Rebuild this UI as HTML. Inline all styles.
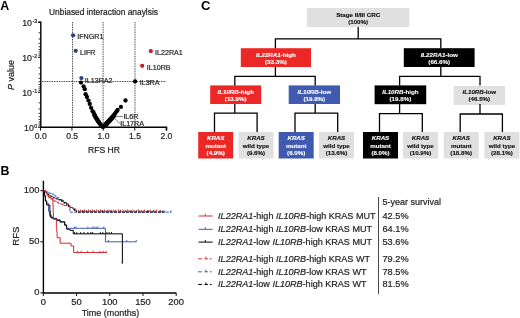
<!DOCTYPE html>
<html><head><meta charset="utf-8"><style>
html,body{margin:0;padding:0;background:#fff;width:520px;height:318px;overflow:hidden}
svg{display:block} text[fill="#222"]{stroke:#222;stroke-width:0.2px} text[fill="#111"]{stroke:#111;stroke-width:0.15px} text[fill="#fff"]{stroke:#fff;stroke-width:0.12px}
</style></head><body>
<svg width="520" height="318" viewBox="0 0 520 318" font-family="'Liberation Sans', Arial, sans-serif">
<rect width="520" height="318" fill="#fff"/>
<text x="0.3" y="10.2" font-size="12.4" text-anchor="start" font-weight="bold" font-style="normal" fill="#000" >A</text>
<text x="0.6" y="175.2" font-size="12.4" text-anchor="start" font-weight="bold" font-style="normal" fill="#000" >B</text>
<text x="201.0" y="10.3" font-size="13.0" text-anchor="start" font-weight="bold" font-style="normal" fill="#000" >C</text>
<text x="103.5" y="15.2" font-size="8.4" text-anchor="middle" font-weight="normal" font-style="normal" fill="#222" >Unbiased interaction anaylsis</text>
<line x1="72.5" y1="22" x2="72.5" y2="127" stroke="#2a2a2a" stroke-width="1" stroke-dasharray="0.85 0.85"/>
<line x1="103.1" y1="22" x2="103.1" y2="127" stroke="#2a2a2a" stroke-width="1" stroke-dasharray="0.85 0.85"/>
<line x1="135.0" y1="22" x2="135.0" y2="127" stroke="#2a2a2a" stroke-width="1" stroke-dasharray="0.85 0.85"/>
<line x1="42" y1="81.5" x2="166.2" y2="81.5" stroke="#2a2a2a" stroke-width="1" stroke-dasharray="0.85 0.85"/>
<path d="M38.3 22.3 H40.8 V127.3 H166.6 V130.6" fill="none" stroke="#000" stroke-width="1.4"/>
<line x1="38" y1="22.299999999999997" x2="40.5" y2="22.299999999999997" stroke="#111" stroke-width="1"/>
<line x1="38" y1="57.3" x2="40.5" y2="57.3" stroke="#111" stroke-width="1"/>
<line x1="38" y1="92.3" x2="40.5" y2="92.3" stroke="#111" stroke-width="1"/>
<line x1="38" y1="127.3" x2="40.5" y2="127.3" stroke="#111" stroke-width="1"/>
<line x1="38.6" y1="32.84" x2="40.5" y2="32.84" stroke="#111" stroke-width="0.85"/>
<line x1="38.6" y1="39.00" x2="40.5" y2="39.00" stroke="#111" stroke-width="0.85"/>
<line x1="38.6" y1="43.37" x2="40.5" y2="43.37" stroke="#111" stroke-width="0.85"/>
<line x1="38.6" y1="46.76" x2="40.5" y2="46.76" stroke="#111" stroke-width="0.85"/>
<line x1="38.6" y1="49.54" x2="40.5" y2="49.54" stroke="#111" stroke-width="0.85"/>
<line x1="38.6" y1="51.88" x2="40.5" y2="51.88" stroke="#111" stroke-width="0.85"/>
<line x1="38.6" y1="53.91" x2="40.5" y2="53.91" stroke="#111" stroke-width="0.85"/>
<line x1="38.6" y1="55.70" x2="40.5" y2="55.70" stroke="#111" stroke-width="0.85"/>
<line x1="38.6" y1="67.84" x2="40.5" y2="67.84" stroke="#111" stroke-width="0.85"/>
<line x1="38.6" y1="74.00" x2="40.5" y2="74.00" stroke="#111" stroke-width="0.85"/>
<line x1="38.6" y1="78.37" x2="40.5" y2="78.37" stroke="#111" stroke-width="0.85"/>
<line x1="38.6" y1="81.76" x2="40.5" y2="81.76" stroke="#111" stroke-width="0.85"/>
<line x1="38.6" y1="84.54" x2="40.5" y2="84.54" stroke="#111" stroke-width="0.85"/>
<line x1="38.6" y1="86.88" x2="40.5" y2="86.88" stroke="#111" stroke-width="0.85"/>
<line x1="38.6" y1="88.91" x2="40.5" y2="88.91" stroke="#111" stroke-width="0.85"/>
<line x1="38.6" y1="90.70" x2="40.5" y2="90.70" stroke="#111" stroke-width="0.85"/>
<line x1="38.6" y1="102.84" x2="40.5" y2="102.84" stroke="#111" stroke-width="0.85"/>
<line x1="38.6" y1="109.00" x2="40.5" y2="109.00" stroke="#111" stroke-width="0.85"/>
<line x1="38.6" y1="113.37" x2="40.5" y2="113.37" stroke="#111" stroke-width="0.85"/>
<line x1="38.6" y1="116.76" x2="40.5" y2="116.76" stroke="#111" stroke-width="0.85"/>
<line x1="38.6" y1="119.54" x2="40.5" y2="119.54" stroke="#111" stroke-width="0.85"/>
<line x1="38.6" y1="121.88" x2="40.5" y2="121.88" stroke="#111" stroke-width="0.85"/>
<line x1="38.6" y1="123.91" x2="40.5" y2="123.91" stroke="#111" stroke-width="0.85"/>
<line x1="38.6" y1="125.70" x2="40.5" y2="125.70" stroke="#111" stroke-width="0.85"/>
<line x1="40.5" y1="127.3" x2="40.5" y2="130.6" stroke="#111" stroke-width="1"/>
<line x1="71.925" y1="127.3" x2="71.925" y2="130.6" stroke="#111" stroke-width="1"/>
<line x1="103.35" y1="127.3" x2="103.35" y2="130.6" stroke="#111" stroke-width="1"/>
<line x1="134.775" y1="127.3" x2="134.775" y2="130.6" stroke="#111" stroke-width="1"/>
<line x1="166.2" y1="127.3" x2="166.2" y2="130.6" stroke="#111" stroke-width="1"/>
<text x="37.3" y="25.499999999999996" font-size="8.8" text-anchor="end" fill="#222">10<tspan font-size="5.4" dx="0.5" dy="-2.9">-3</tspan></text>
<text x="37.3" y="60.5" font-size="8.8" text-anchor="end" fill="#222">10<tspan font-size="5.4" dx="0.5" dy="-2.9">-2</tspan></text>
<text x="37.3" y="95.5" font-size="8.8" text-anchor="end" fill="#222">10<tspan font-size="5.4" dx="0.5" dy="-2.9">-1</tspan></text>
<text x="37.3" y="130.5" font-size="8.8" text-anchor="end" fill="#222">10<tspan font-size="5.4" dx="0.5" dy="-2.9">0</tspan></text>
<text x="40.7" y="139.4" font-size="8.6" text-anchor="middle" font-weight="normal" font-style="normal" fill="#222" >0.0</text>
<text x="72.125" y="139.4" font-size="8.6" text-anchor="middle" font-weight="normal" font-style="normal" fill="#222" >0.5</text>
<text x="103.55" y="139.4" font-size="8.6" text-anchor="middle" font-weight="normal" font-style="normal" fill="#222" >1.0</text>
<text x="134.975" y="139.4" font-size="8.6" text-anchor="middle" font-weight="normal" font-style="normal" fill="#222" >1.5</text>
<text x="166.39999999999998" y="139.4" font-size="8.6" text-anchor="middle" font-weight="normal" font-style="normal" fill="#222" >2.0</text>
<text x="104" y="153.2" font-size="8.6" text-anchor="middle" font-weight="normal" font-style="normal" fill="#222" >RFS HR</text>
<text transform="translate(14.2 75) rotate(-90)" font-size="9" text-anchor="middle" fill="#222"><tspan font-style="italic">P</tspan> value</text>
<circle cx="81.0" cy="82.6" r="2.15" fill="#000"/>
<circle cx="83.6" cy="86.5" r="2.15" fill="#000"/>
<circle cx="84.8" cy="89.2" r="2.15" fill="#000"/>
<circle cx="85.6" cy="94.2" r="2.15" fill="#000"/>
<circle cx="86.9" cy="97.0" r="2.15" fill="#000"/>
<circle cx="88.5" cy="100.6" r="2.15" fill="#000"/>
<circle cx="89.8" cy="104.0" r="2.15" fill="#000"/>
<circle cx="91.1" cy="107.8" r="2.15" fill="#000"/>
<circle cx="92.6" cy="111.2" r="2.15" fill="#000"/>
<circle cx="94.2" cy="115.0" r="2.15" fill="#000"/>
<circle cx="95.5" cy="117.6" r="2.15" fill="#000"/>
<circle cx="96.8" cy="119.6" r="2.15" fill="#000"/>
<circle cx="98.0" cy="121.4" r="2.15" fill="#000"/>
<circle cx="99.2" cy="123.0" r="2.15" fill="#000"/>
<circle cx="100.4" cy="124.6" r="2.15" fill="#000"/>
<circle cx="101.6" cy="125.9" r="2.15" fill="#000"/>
<circle cx="102.8" cy="127.0" r="2.15" fill="#000"/>
<circle cx="93.6" cy="112.6" r="2.15" fill="#000"/>
<circle cx="95.0" cy="115.4" r="2.15" fill="#000"/>
<circle cx="96.4" cy="117.8" r="2.15" fill="#000"/>
<circle cx="97.6" cy="120.0" r="2.15" fill="#000"/>
<circle cx="98.8" cy="121.9" r="2.15" fill="#000"/>
<circle cx="100.0" cy="123.6" r="2.15" fill="#000"/>
<circle cx="101.2" cy="125.1" r="2.15" fill="#000"/>
<circle cx="103.8" cy="126.2" r="2.15" fill="#000"/>
<circle cx="104.8" cy="125.1" r="2.15" fill="#000"/>
<circle cx="105.8" cy="124.0" r="2.15" fill="#000"/>
<circle cx="106.8" cy="122.9" r="2.15" fill="#000"/>
<circle cx="107.8" cy="121.8" r="2.15" fill="#000"/>
<circle cx="108.8" cy="120.7" r="2.15" fill="#000"/>
<circle cx="109.8" cy="119.6" r="2.15" fill="#000"/>
<circle cx="110.8" cy="118.5" r="2.15" fill="#000"/>
<circle cx="111.8" cy="117.4" r="2.15" fill="#000"/>
<circle cx="112.8" cy="116.3" r="2.15" fill="#000"/>
<circle cx="113.8" cy="115.2" r="2.15" fill="#000"/>
<circle cx="114.8" cy="114.0" r="2.15" fill="#000"/>
<circle cx="115.8" cy="112.6" r="2.15" fill="#000"/>
<circle cx="116.8" cy="111.2" r="2.15" fill="#000"/>
<circle cx="117.6" cy="109.9" r="2.15" fill="#000"/>
<circle cx="120.9" cy="106.9" r="2.15" fill="#000"/>
<circle cx="125.5" cy="100.5" r="2.15" fill="#000"/>
<circle cx="104.8" cy="126.3" r="2.15" fill="#000"/>
<circle cx="105.8" cy="125.3" r="2.15" fill="#000"/>
<circle cx="106.8" cy="124.2" r="2.15" fill="#000"/>
<circle cx="107.8" cy="123.1" r="2.15" fill="#000"/>
<circle cx="108.8" cy="122.0" r="2.15" fill="#000"/>
<circle cx="109.8" cy="120.9" r="2.15" fill="#000"/>
<circle cx="110.8" cy="119.8" r="2.15" fill="#000"/>
<circle cx="111.8" cy="118.7" r="2.15" fill="#000"/>
<circle cx="112.8" cy="117.5" r="2.15" fill="#000"/>
<circle cx="113.8" cy="116.3" r="2.15" fill="#000"/>
<circle cx="73.1" cy="35.3" r="2.15" fill="#343f80"/>
<circle cx="75.7" cy="50.8" r="2.15" fill="#343f80"/>
<circle cx="81.4" cy="78.1" r="2.15" fill="#343f80"/>
<circle cx="150.8" cy="51.1" r="2.15" fill="#c0202a"/>
<circle cx="142.2" cy="65.8" r="2.15" fill="#c0202a"/>
<circle cx="135.1" cy="81.4" r="2.15" fill="#000"/>
<text x="77.2" y="39.0" font-size="7.15" text-anchor="start" font-weight="normal" font-style="normal" fill="#222" >IFNGR1</text>
<text x="80.0" y="55.0" font-size="7.15" text-anchor="start" font-weight="normal" font-style="normal" fill="#222" >LIFR</text>
<text x="84.8" y="82.8" font-size="7.15" text-anchor="start" font-weight="normal" font-style="normal" fill="#222" >IL13RA2</text>
<text x="155.0" y="54.6" font-size="7.15" text-anchor="start" font-weight="normal" font-style="normal" fill="#222" >IL22RA1</text>
<text x="146.8" y="70.1" font-size="7.15" text-anchor="start" font-weight="normal" font-style="normal" fill="#222" >IL10RB</text>
<text x="139.7" y="85.4" font-size="7.15" text-anchor="start" font-weight="normal" font-style="normal" fill="#222" >IL3RA</text>
<text x="123.4" y="118.6" font-size="7.15" text-anchor="start" font-weight="normal" font-style="normal" fill="#222" >IL6R</text>
<text x="120.2" y="125.6" font-size="7.15" text-anchor="start" font-weight="normal" font-style="normal" fill="#222" >IL17RA</text>
<line x1="115" y1="116.5" x2="123" y2="116.5" stroke="#333" stroke-width="0.6"/>
<line x1="114.8" y1="118.6" x2="120.6" y2="124" stroke="#333" stroke-width="0.6"/>
<rect x="307" y="8" width="102.30000000000001" height="19" fill="#e0e0e0"/><text x="358.15" y="16.6" font-size="6.2" font-weight="bold" text-anchor="middle" fill="#111">Stage II/III CRC</text><text x="358.15" y="23.7" font-size="6.2" font-weight="bold" text-anchor="middle" fill="#111">(100%)</text>
<rect x="240.8" y="48.2" width="70.19999999999999" height="18.799999999999997" fill="#ec2826"/><text x="275.9" y="56.9" font-size="6.2" font-weight="bold" text-anchor="middle" fill="#fff"><tspan font-style="italic">IL22RA1</tspan>-high</text><text x="275.9" y="64.0" font-size="6.2" font-weight="bold" text-anchor="middle" fill="#fff">(33.3%)</text>
<rect x="403.8" y="48.2" width="70.80000000000001" height="18.799999999999997" fill="#000"/><text x="439.20000000000005" y="56.9" font-size="6.2" font-weight="bold" text-anchor="middle" fill="#fff"><tspan font-style="italic">IL22RA1</tspan>-low</text><text x="439.20000000000005" y="64.0" font-size="6.2" font-weight="bold" text-anchor="middle" fill="#fff">(66.6%)</text>
<rect x="210.2" y="85.4" width="51.0" height="18.599999999999994" fill="#ec2826"/><text x="235.7" y="94.0" font-size="6.2" font-weight="bold" text-anchor="middle" fill="#fff"><tspan font-style="italic">IL10RB</tspan>-high</text><text x="235.7" y="101.1" font-size="6.2" font-weight="bold" text-anchor="middle" fill="#fff">(13.9%)</text>
<rect x="288.7" y="85.4" width="51.30000000000001" height="18.599999999999994" fill="#3f5aae"/><text x="314.35" y="94.0" font-size="6.2" font-weight="bold" text-anchor="middle" fill="#fff"><tspan font-style="italic">IL10RB</tspan>-low</text><text x="314.35" y="101.1" font-size="6.2" font-weight="bold" text-anchor="middle" fill="#fff">(19.8%)</text>
<rect x="374.6" y="85.4" width="51.599999999999966" height="18.799999999999997" fill="#000"/><text x="400.4" y="94.0" font-size="6.2" font-weight="bold" text-anchor="middle" fill="#fff"><tspan font-style="italic">IL10RB</tspan>-high</text><text x="400.4" y="101.1" font-size="6.2" font-weight="bold" text-anchor="middle" fill="#fff">(19.8%)</text>
<rect x="453.7" y="86.0" width="51.30000000000001" height="19.0" fill="#e0e0e0"/><text x="479.35" y="94.2" font-size="6.2" font-weight="bold" text-anchor="middle" fill="#111"><tspan font-style="italic">IL10RB</tspan>-low</text><text x="479.35" y="101.3" font-size="6.2" font-weight="bold" text-anchor="middle" fill="#111">(46.5%)</text>
<rect x="198.2" y="132" width="35.0" height="26.5" fill="#ec2826"/><text x="215.7" y="140.2" font-size="6.2" font-weight="bold" text-anchor="middle" fill="#fff"><tspan font-style="italic">KRAS</tspan></text><text x="215.7" y="147.6" font-size="6.2" font-weight="bold" text-anchor="middle" fill="#fff">mutant</text><text x="215.7" y="155.0" font-size="6.2" font-weight="bold" text-anchor="middle" fill="#fff">(4.9%)</text>
<rect x="238.5" y="132" width="35.0" height="26.5" fill="#e0e0e0"/><text x="256.0" y="140.2" font-size="6.2" font-weight="bold" text-anchor="middle" fill="#111"><tspan font-style="italic">KRAS</tspan></text><text x="256.0" y="147.6" font-size="6.2" font-weight="bold" text-anchor="middle" fill="#111">wild type</text><text x="256.0" y="155.0" font-size="6.2" font-weight="bold" text-anchor="middle" fill="#111">(9.6%)</text>
<rect x="278.7" y="132" width="35.0" height="26.5" fill="#3f5aae"/><text x="296.2" y="140.2" font-size="6.2" font-weight="bold" text-anchor="middle" fill="#fff"><tspan font-style="italic">KRAS</tspan></text><text x="296.2" y="147.6" font-size="6.2" font-weight="bold" text-anchor="middle" fill="#fff">mutant</text><text x="296.2" y="155.0" font-size="6.2" font-weight="bold" text-anchor="middle" fill="#fff">(6.0%)</text>
<rect x="319.0" y="132" width="35.0" height="26.5" fill="#e0e0e0"/><text x="336.5" y="140.2" font-size="6.2" font-weight="bold" text-anchor="middle" fill="#111"><tspan font-style="italic">KRAS</tspan></text><text x="336.5" y="147.6" font-size="6.2" font-weight="bold" text-anchor="middle" fill="#111">wild type</text><text x="336.5" y="155.0" font-size="6.2" font-weight="bold" text-anchor="middle" fill="#111">(13.6%)</text>
<rect x="363.0" y="132" width="35.0" height="26.5" fill="#000"/><text x="380.5" y="140.2" font-size="6.2" font-weight="bold" text-anchor="middle" fill="#fff"><tspan font-style="italic">KRAS</tspan></text><text x="380.5" y="147.6" font-size="6.2" font-weight="bold" text-anchor="middle" fill="#fff">mutant</text><text x="380.5" y="155.0" font-size="6.2" font-weight="bold" text-anchor="middle" fill="#fff">(8.0%)</text>
<rect x="403.0" y="132" width="35.0" height="26.5" fill="#e0e0e0"/><text x="420.5" y="140.2" font-size="6.2" font-weight="bold" text-anchor="middle" fill="#111"><tspan font-style="italic">KRAS</tspan></text><text x="420.5" y="147.6" font-size="6.2" font-weight="bold" text-anchor="middle" fill="#111">wild type</text><text x="420.5" y="155.0" font-size="6.2" font-weight="bold" text-anchor="middle" fill="#111">(10.9%)</text>
<rect x="443.7" y="132" width="35.0" height="26.5" fill="#e0e0e0"/><text x="461.2" y="140.2" font-size="6.2" font-weight="bold" text-anchor="middle" fill="#111"><tspan font-style="italic">KRAS</tspan></text><text x="461.2" y="147.6" font-size="6.2" font-weight="bold" text-anchor="middle" fill="#111">mutant</text><text x="461.2" y="155.0" font-size="6.2" font-weight="bold" text-anchor="middle" fill="#111">(18.8%)</text>
<rect x="484.4" y="132" width="35.0" height="26.5" fill="#e0e0e0"/><text x="501.9" y="140.2" font-size="6.2" font-weight="bold" text-anchor="middle" fill="#111"><tspan font-style="italic">KRAS</tspan></text><text x="501.9" y="147.6" font-size="6.2" font-weight="bold" text-anchor="middle" fill="#111">wild type</text><text x="501.9" y="155.0" font-size="6.2" font-weight="bold" text-anchor="middle" fill="#111">(28.1%)</text>
<path d="M358.2 27 V38.8 M275.4 48.3 V38.8 H440.8 V48.3" fill="none" stroke="#000" stroke-width="1.3"/>
<path d="M275.4 67 V76.3 M234.8 85.4 V76.3 H315.2 V85.4" fill="none" stroke="#000" stroke-width="1.3"/>
<path d="M440.8 67 V76.3 M399.6 85.4 V76.3 H480.0 V85.4" fill="none" stroke="#000" stroke-width="1.3"/>
<path d="M234.8 104 V113.2 M214.5 132 V113.2 H257.1 V132" fill="none" stroke="#000" stroke-width="1.3"/>
<path d="M315.2 104 V113.2 M295.0 132 V113.2 H337.7 V132" fill="none" stroke="#000" stroke-width="1.3"/>
<path d="M399.6 104 V113.6 M379.5 132 V113.6 H422.3 V132" fill="none" stroke="#000" stroke-width="1.3"/>
<path d="M480.0 104 V114.0 M460.2 132 V114.0 H502.4 V132" fill="none" stroke="#000" stroke-width="1.3"/>
<path d="M43.4 180.7 V293 H176.4" fill="none" stroke="#000" stroke-width="1.4"/>
<line x1="40.3" y1="292.9" x2="43.3" y2="292.9" stroke="#111" stroke-width="1"/>
<line x1="40.3" y1="241.79999999999998" x2="43.3" y2="241.79999999999998" stroke="#111" stroke-width="1"/>
<line x1="40.3" y1="190.7" x2="43.3" y2="190.7" stroke="#111" stroke-width="1"/>
<line x1="43.3" y1="293" x2="43.3" y2="296" stroke="#111" stroke-width="1"/>
<line x1="76.525" y1="293" x2="76.525" y2="296" stroke="#111" stroke-width="1"/>
<line x1="109.75" y1="293" x2="109.75" y2="296" stroke="#111" stroke-width="1"/>
<line x1="142.975" y1="293" x2="142.975" y2="296" stroke="#111" stroke-width="1"/>
<line x1="176.2" y1="293" x2="176.2" y2="296" stroke="#111" stroke-width="1"/>
<text x="39.4" y="295.09999999999997" font-size="9.4" text-anchor="end" font-weight="normal" font-style="normal" fill="#222" >0</text>
<text x="39.4" y="243.99999999999997" font-size="9.4" text-anchor="end" font-weight="normal" font-style="normal" fill="#222" >50</text>
<text x="39.4" y="192.89999999999998" font-size="9.4" text-anchor="end" font-weight="normal" font-style="normal" fill="#222" >100</text>
<text x="43.3" y="305.2" font-size="9.4" text-anchor="middle" font-weight="normal" font-style="normal" fill="#222" >0</text>
<text x="76.525" y="305.2" font-size="9.4" text-anchor="middle" font-weight="normal" font-style="normal" fill="#222" >50</text>
<text x="109.75" y="305.2" font-size="9.4" text-anchor="middle" font-weight="normal" font-style="normal" fill="#222" >100</text>
<text x="142.975" y="305.2" font-size="9.4" text-anchor="middle" font-weight="normal" font-style="normal" fill="#222" >150</text>
<text x="176.2" y="305.2" font-size="9.4" text-anchor="middle" font-weight="normal" font-style="normal" fill="#222" >200</text>
<text x="110.5" y="315.5" font-size="9.0" text-anchor="middle" font-weight="normal" font-style="normal" fill="#222" >Time (months)</text>
<text transform="translate(19.0 236.1) rotate(-90)" font-size="9.6" text-anchor="middle" fill="#222">RFS</text>
<path d="M43.30 190.70 H45.29 V191.72 H47.29 V192.23 H49.28 V193.25 H51.94 V194.17 H53.93 V195.81 H55.93 V197.34 H58.58 V199.59 H61.24 V201.43 H63.90 V203.47 H66.56 V205.52 H68.55 V207.05 H69.88 V212.16 H171.55" fill="none" stroke="#3c5db0" stroke-width="1" stroke-dasharray="3 1"/><line x1="83.17" y1="210.36" x2="83.17" y2="212.16" stroke="#3c5db0" stroke-width="0.9"/><line x1="92.47" y1="210.36" x2="92.47" y2="212.16" stroke="#3c5db0" stroke-width="0.9"/><line x1="101.78" y1="210.36" x2="101.78" y2="212.16" stroke="#3c5db0" stroke-width="0.9"/><line x1="111.08" y1="210.36" x2="111.08" y2="212.16" stroke="#3c5db0" stroke-width="0.9"/><line x1="120.38" y1="210.36" x2="120.38" y2="212.16" stroke="#3c5db0" stroke-width="0.9"/><line x1="129.69" y1="210.36" x2="129.69" y2="212.16" stroke="#3c5db0" stroke-width="0.9"/><line x1="138.99" y1="210.36" x2="138.99" y2="212.16" stroke="#3c5db0" stroke-width="0.9"/><line x1="148.29" y1="210.36" x2="148.29" y2="212.16" stroke="#3c5db0" stroke-width="0.9"/><line x1="152.94" y1="210.36" x2="152.94" y2="212.16" stroke="#3c5db0" stroke-width="0.9"/><line x1="162.25" y1="210.36" x2="162.25" y2="212.16" stroke="#3c5db0" stroke-width="0.9"/><line x1="170.88" y1="210.36" x2="170.88" y2="212.16" stroke="#3c5db0" stroke-width="0.9"/>
<path d="M43.30 190.70 H44.63 V192.23 H46.62 V193.77 H48.62 V195.30 H50.61 V196.32 H53.27 V197.85 H55.93 V198.88 H58.58 V199.90 H61.51 V200.92 H63.90 V202.45 H66.56 V203.99 H68.55 V206.03 H70.54 V207.56 H72.54 V209.10 H74.53 V210.63 H76.53 V212.06 H164.24" fill="none" stroke="#000" stroke-width="1" stroke-dasharray="3 1"/><line x1="61.91" y1="199.12" x2="61.91" y2="200.92" stroke="#000" stroke-width="0.9"/><line x1="68.55" y1="204.23" x2="68.55" y2="206.03" stroke="#000" stroke-width="0.9"/><line x1="74.53" y1="208.83" x2="74.53" y2="210.63" stroke="#000" stroke-width="0.9"/><line x1="78.52" y1="210.26" x2="78.52" y2="212.06" stroke="#000" stroke-width="0.9"/><line x1="82.51" y1="210.26" x2="82.51" y2="212.06" stroke="#000" stroke-width="0.9"/><line x1="86.49" y1="210.26" x2="86.49" y2="212.06" stroke="#000" stroke-width="0.9"/><line x1="90.48" y1="210.26" x2="90.48" y2="212.06" stroke="#000" stroke-width="0.9"/><line x1="94.47" y1="210.26" x2="94.47" y2="212.06" stroke="#000" stroke-width="0.9"/><line x1="98.45" y1="210.26" x2="98.45" y2="212.06" stroke="#000" stroke-width="0.9"/><line x1="102.44" y1="210.26" x2="102.44" y2="212.06" stroke="#000" stroke-width="0.9"/><line x1="107.09" y1="210.26" x2="107.09" y2="212.06" stroke="#000" stroke-width="0.9"/><line x1="111.08" y1="210.26" x2="111.08" y2="212.06" stroke="#000" stroke-width="0.9"/><line x1="115.73" y1="210.26" x2="115.73" y2="212.06" stroke="#000" stroke-width="0.9"/><line x1="120.38" y1="210.26" x2="120.38" y2="212.06" stroke="#000" stroke-width="0.9"/><line x1="125.70" y1="210.26" x2="125.70" y2="212.06" stroke="#000" stroke-width="0.9"/><line x1="131.01" y1="210.26" x2="131.01" y2="212.06" stroke="#000" stroke-width="0.9"/><line x1="136.33" y1="210.26" x2="136.33" y2="212.06" stroke="#000" stroke-width="0.9"/><line x1="141.65" y1="210.26" x2="141.65" y2="212.06" stroke="#000" stroke-width="0.9"/><line x1="147.63" y1="210.26" x2="147.63" y2="212.06" stroke="#000" stroke-width="0.9"/><line x1="153.61" y1="210.26" x2="153.61" y2="212.06" stroke="#000" stroke-width="0.9"/><line x1="160.25" y1="210.26" x2="160.25" y2="212.06" stroke="#000" stroke-width="0.9"/>
<path d="M43.30 190.70 H45.96 V193.25 H47.29 V194.79 H48.62 V196.83 H49.94 V198.36 H51.94 V199.90 H53.93 V201.12 H56.19 V202.25 H58.58 V203.47 H61.24 V204.50 H63.90 V205.52 H67.02 V206.34 H69.88 V207.56 H73.20 V208.69 H75.86 V211.24 H165.57" fill="none" stroke="#d42a30" stroke-width="1" stroke-dasharray="4 1"/><line x1="80.51" y1="209.44" x2="80.51" y2="211.24" stroke="#d42a30" stroke-width="0.9"/><line x1="84.50" y1="209.44" x2="84.50" y2="211.24" stroke="#d42a30" stroke-width="0.9"/><line x1="88.49" y1="209.44" x2="88.49" y2="211.24" stroke="#d42a30" stroke-width="0.9"/><line x1="92.47" y1="209.44" x2="92.47" y2="211.24" stroke="#d42a30" stroke-width="0.9"/><line x1="96.46" y1="209.44" x2="96.46" y2="211.24" stroke="#d42a30" stroke-width="0.9"/><line x1="100.45" y1="209.44" x2="100.45" y2="211.24" stroke="#d42a30" stroke-width="0.9"/><line x1="104.43" y1="209.44" x2="104.43" y2="211.24" stroke="#d42a30" stroke-width="0.9"/><line x1="109.09" y1="209.44" x2="109.09" y2="211.24" stroke="#d42a30" stroke-width="0.9"/><line x1="113.74" y1="209.44" x2="113.74" y2="211.24" stroke="#d42a30" stroke-width="0.9"/><line x1="118.39" y1="209.44" x2="118.39" y2="211.24" stroke="#d42a30" stroke-width="0.9"/><line x1="123.04" y1="209.44" x2="123.04" y2="211.24" stroke="#d42a30" stroke-width="0.9"/><line x1="127.69" y1="209.44" x2="127.69" y2="211.24" stroke="#d42a30" stroke-width="0.9"/><line x1="133.01" y1="209.44" x2="133.01" y2="211.24" stroke="#d42a30" stroke-width="0.9"/><line x1="138.32" y1="209.44" x2="138.32" y2="211.24" stroke="#d42a30" stroke-width="0.9"/><line x1="144.30" y1="209.44" x2="144.30" y2="211.24" stroke="#d42a30" stroke-width="0.9"/><line x1="150.28" y1="209.44" x2="150.28" y2="211.24" stroke="#d42a30" stroke-width="0.9"/><line x1="156.26" y1="209.44" x2="156.26" y2="211.24" stroke="#d42a30" stroke-width="0.9"/>
<path d="M43.30 190.70 H44.50 V195.81 H45.49 V200.92 H46.49 V202.96 H48.22 V206.03 H48.55 V211.55 H49.48 V215.23 H51.61 V218.29 H56.72 V219.83 H60.11 V221.56 H64.70 V224.83 H66.56 V228.31 H105.43 V241.80 H136.53" fill="none" stroke="#3c5db0" stroke-width="1"/><line x1="74.40" y1="226.51" x2="74.40" y2="228.31" stroke="#3c5db0" stroke-width="0.9"/><line x1="75.93" y1="226.51" x2="75.93" y2="228.31" stroke="#3c5db0" stroke-width="0.9"/><line x1="87.89" y1="226.51" x2="87.89" y2="228.31" stroke="#3c5db0" stroke-width="0.9"/><line x1="92.21" y1="226.51" x2="92.21" y2="228.31" stroke="#3c5db0" stroke-width="0.9"/><line x1="94.07" y1="226.51" x2="94.07" y2="228.31" stroke="#3c5db0" stroke-width="0.9"/><line x1="96.13" y1="226.51" x2="96.13" y2="228.31" stroke="#3c5db0" stroke-width="0.9"/><line x1="97.99" y1="226.51" x2="97.99" y2="228.31" stroke="#3c5db0" stroke-width="0.9"/><line x1="103.77" y1="226.51" x2="103.77" y2="228.31" stroke="#3c5db0" stroke-width="0.9"/><line x1="108.42" y1="240.00" x2="108.42" y2="241.80" stroke="#3c5db0" stroke-width="0.9"/><line x1="126.76" y1="240.00" x2="126.76" y2="241.80" stroke="#3c5db0" stroke-width="0.9"/><line x1="136.26" y1="240.00" x2="136.26" y2="241.80" stroke="#3c5db0" stroke-width="0.9"/>
<path d="M43.30 190.70 H44.30 V195.81 H45.29 V200.92 H46.62 V205.01 H49.88 V211.14 H50.28 V217.27 H53.00 V218.80 H56.72 V220.34 H60.11 V222.08 H64.70 V225.24 H66.69 V229.23 H69.88 V230.35 H73.27 V233.83 H122.38 V262.96 H122.38" fill="none" stroke="#000" stroke-width="1"/><line x1="74.40" y1="232.03" x2="74.40" y2="233.83" stroke="#000" stroke-width="0.9"/><line x1="76.79" y1="232.03" x2="76.79" y2="233.83" stroke="#000" stroke-width="0.9"/><line x1="80.71" y1="232.03" x2="80.71" y2="233.83" stroke="#000" stroke-width="0.9"/><line x1="83.97" y1="232.03" x2="83.97" y2="233.83" stroke="#000" stroke-width="0.9"/><line x1="87.89" y1="232.03" x2="87.89" y2="233.83" stroke="#000" stroke-width="0.9"/><line x1="90.81" y1="232.03" x2="90.81" y2="233.83" stroke="#000" stroke-width="0.9"/><line x1="92.67" y1="232.03" x2="92.67" y2="233.83" stroke="#000" stroke-width="0.9"/><line x1="100.38" y1="232.03" x2="100.38" y2="233.83" stroke="#000" stroke-width="0.9"/><line x1="102.84" y1="232.03" x2="102.84" y2="233.83" stroke="#000" stroke-width="0.9"/><line x1="106.89" y1="232.03" x2="106.89" y2="233.83" stroke="#000" stroke-width="0.9"/><line x1="109.22" y1="232.03" x2="109.22" y2="233.83" stroke="#000" stroke-width="0.9"/><line x1="111.48" y1="232.03" x2="111.48" y2="233.83" stroke="#000" stroke-width="0.9"/>
<path d="M43.30 190.70 H45.96 V193.25 H47.29 V195.81 H48.62 V197.34 H50.61 V198.36 H52.94 V205.01 H53.13 V212.16 H53.40 V219.32 H56.39 V226.47 H56.72 V231.58 H57.12 V237.71 H60.18 V243.23 H71.01 V245.99 H73.67 V252.53 H106.76" fill="none" stroke="#d42a30" stroke-width="1"/><line x1="77.72" y1="250.73" x2="77.72" y2="252.53" stroke="#d42a30" stroke-width="0.9"/><line x1="81.18" y1="250.73" x2="81.18" y2="252.53" stroke="#d42a30" stroke-width="0.9"/><line x1="87.69" y1="250.73" x2="87.69" y2="252.53" stroke="#d42a30" stroke-width="0.9"/><line x1="93.07" y1="250.73" x2="93.07" y2="252.53" stroke="#d42a30" stroke-width="0.9"/><line x1="99.98" y1="250.73" x2="99.98" y2="252.53" stroke="#d42a30" stroke-width="0.9"/><line x1="103.10" y1="250.73" x2="103.10" y2="252.53" stroke="#d42a30" stroke-width="0.9"/><line x1="106.16" y1="250.73" x2="106.16" y2="252.53" stroke="#d42a30" stroke-width="0.9"/>
<line x1="121.71" y1="262.96" x2="123.04" y2="262.96" stroke="#000" stroke-width="1.2"/>
<line x1="198.6" y1="216.0" x2="212.6" y2="216.0" stroke="#d42a30" stroke-width="1"/>
<line x1="205.3" y1="213.79999999999998" x2="205.3" y2="216.0" stroke="#d42a30" stroke-width="0.9"/>
<text x="218.1" y="218.9" font-size="9.05" fill="#222"><tspan font-style="italic">IL22RA1</tspan>-high <tspan font-style="italic">IL10RB</tspan>-high KRAS MUT</text>
<text x="382.5" y="218.9" font-size="9.2" text-anchor="start" font-weight="normal" font-style="normal" fill="#222" >42.5%</text>
<line x1="198.6" y1="229.3" x2="212.6" y2="229.3" stroke="#3c5db0" stroke-width="1"/>
<line x1="205.3" y1="227.1" x2="205.3" y2="229.3" stroke="#3c5db0" stroke-width="0.9"/>
<text x="218.1" y="232.20000000000002" font-size="9.05" fill="#222"><tspan font-style="italic">IL22RA1</tspan>-high <tspan font-style="italic">IL10RB</tspan>-low KRAS MUT</text>
<text x="382.5" y="232.20000000000002" font-size="9.2" text-anchor="start" font-weight="normal" font-style="normal" fill="#222" >64.1%</text>
<line x1="198.6" y1="242.1" x2="212.6" y2="242.1" stroke="#000" stroke-width="1"/>
<line x1="205.3" y1="239.89999999999998" x2="205.3" y2="242.1" stroke="#000" stroke-width="0.9"/>
<text x="218.1" y="245.0" font-size="9.05" fill="#222"><tspan font-style="italic">IL22RA1</tspan>-low <tspan font-style="italic">IL10RB</tspan>-high KRAS MUT</text>
<text x="382.5" y="245.0" font-size="9.2" text-anchor="start" font-weight="normal" font-style="normal" fill="#222" >53.6%</text>
<line x1="198.2" y1="258.79999999999995" x2="211.6" y2="258.79999999999995" stroke="#d42a30" stroke-width="1" stroke-dasharray="3.7 2.6 3.4 1.9"/>
<line x1="205.9" y1="256.59999999999997" x2="205.9" y2="258.79999999999995" stroke="#d42a30" stroke-width="0.9"/>
<text x="218.1" y="261.7" font-size="9.05" fill="#222"><tspan font-style="italic">IL22RA1</tspan>-high <tspan font-style="italic">IL10RB</tspan>-high KRAS WT</text>
<text x="382.5" y="261.7" font-size="9.2" text-anchor="start" font-weight="normal" font-style="normal" fill="#222" >79.2%</text>
<line x1="198.2" y1="271.79999999999995" x2="211.6" y2="271.79999999999995" stroke="#3c5db0" stroke-width="1" stroke-dasharray="3.7 2.6 3.4 1.9"/>
<line x1="205.9" y1="269.59999999999997" x2="205.9" y2="271.79999999999995" stroke="#3c5db0" stroke-width="0.9"/>
<text x="218.1" y="274.7" font-size="9.05" fill="#222"><tspan font-style="italic">IL22RA1</tspan>-high <tspan font-style="italic">IL10RB</tspan>-low KRAS WT</text>
<text x="382.5" y="274.7" font-size="9.2" text-anchor="start" font-weight="normal" font-style="normal" fill="#222" >78.5%</text>
<line x1="198.2" y1="284.5" x2="211.6" y2="284.5" stroke="#000" stroke-width="1" stroke-dasharray="3.7 2.6 3.4 1.9"/>
<line x1="205.9" y1="282.3" x2="205.9" y2="284.5" stroke="#000" stroke-width="0.9"/>
<text x="218.1" y="287.40000000000003" font-size="9.05" fill="#222"><tspan font-style="italic">IL22RA1</tspan>-low <tspan font-style="italic">IL10RB</tspan>-high KRAS WT</text>
<text x="382.5" y="287.40000000000003" font-size="9.2" text-anchor="start" font-weight="normal" font-style="normal" fill="#222" >81.5%</text>
<text x="382.5" y="205.3" font-size="9.0" text-anchor="start" font-weight="normal" font-style="normal" fill="#222" >5-year survival</text>
<line x1="378.5" y1="197" x2="378.5" y2="294" stroke="#333" stroke-width="0.9"/>
</svg>
</body></html>
